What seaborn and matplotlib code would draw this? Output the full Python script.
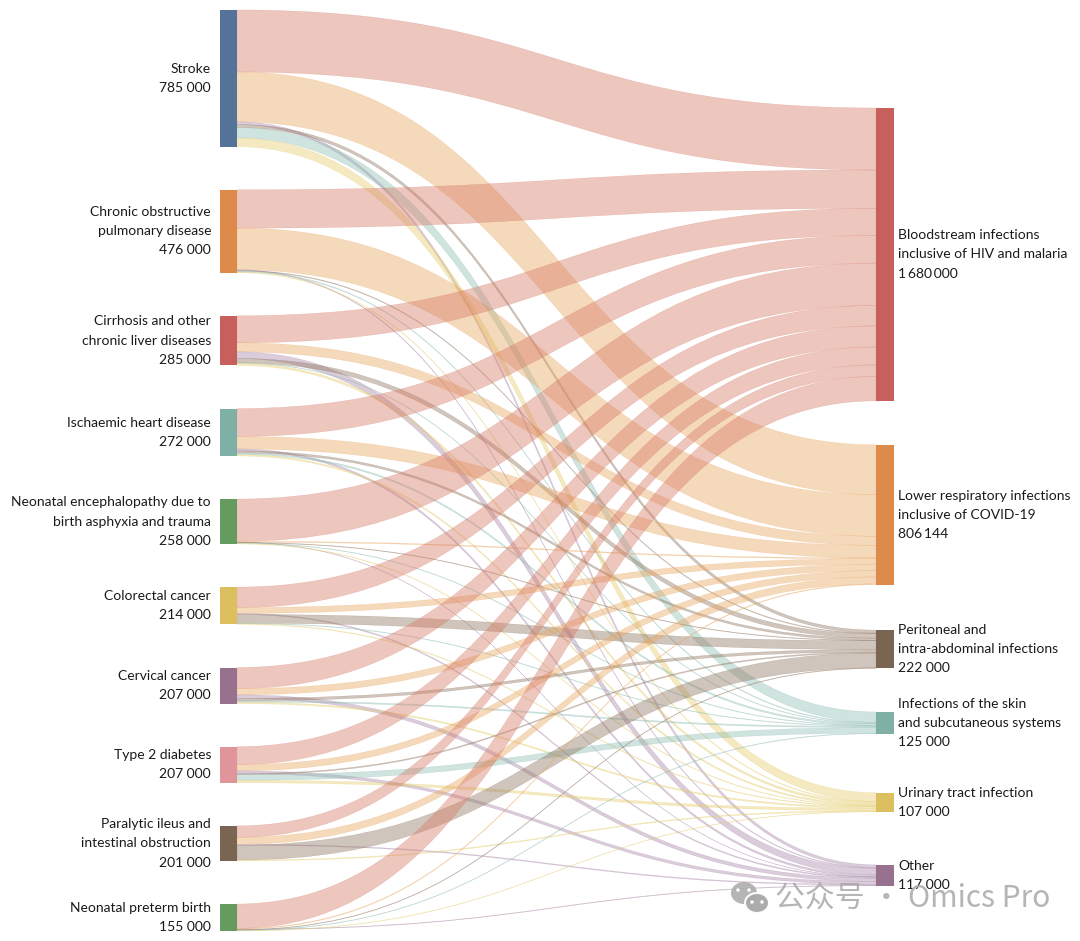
import numpy as np
import matplotlib
matplotlib.use("Agg")
import matplotlib.pyplot as plt
from matplotlib.path import Path
from matplotlib.patches import PathPatch, Rectangle, Ellipse
import seaborn as sns

# ---------------- data ----------------
sources = ["Stroke", "Chronic obstructive\npulmonary disease",
           "Cirrhosis and other\nchronic liver diseases", "Ischaemic heart disease",
           "Neonatal encephalopathy due to\nbirth asphyxia and trauma", "Colorectal cancer",
           "Cervical cancer", "Type 2 diabetes",
           "Paralytic ileus and\nintestinal obstruction", "Neonatal preterm birth"]
source_totals = ["785 000", "476 000", "285 000", "272 000", "258 000",
                 "214 000", "207 000", "207 000", "201 000", "155 000"]
targets = ["Bloodstream infections\ninclusive of HIV and malaria",
           "Lower respiratory infections\ninclusive of COVID-19",
           "Peritoneal and\nintra-abdominal infections",
           "Infections of the skin\nand subcutaneous systems",
           "Urinary tract infection", "Other"]
target_totals = ["1\u2009680\u2009000", "806\u2009144", "222 000", "125 000", "107 000", "117 000"]

# flows (thousands of deaths), one list per target, in source order
blood   = [356, 220, 155, 160, 243, 118, 121, 103, 66, 140]
lri     = [286, 239, 52, 72, 5, 33, 36, 36, 40, 4]
periton = [17, 4, 25, 12, 3, 50, 15, 6, 85, 3]
skin    = [60, 5, 3, 9, 3, 3, 7, 32, 0, 3]
uti     = [50, 4, 12, 8, 3, 4, 8, 14, 5, 2]
other   = [16, 4, 38, 11, 1, 6, 20, 16, 5, 3]

# ---------------- style ----------------
source_colors = ["#557399", "#dd8a4b", "#c75f5c", "#7fb0a6", "#659b5e",
                 "#dcc060", "#98718f", "#e0959b", "#7a6552", "#659b5e"]
target_colors = ["#c75f5c", "#dd8a4b", "#7a6552", "#7fb0a6", "#dcc060", "#98718f"]
link_colors = ["#d67a66", "#e9a55e", "#8f7560", "#8ebdb3", "#e5cc6a", "#a787a8"]

sns.set_theme(style="white")
plt.rcParams['font.family'] = ['Lato', 'DejaVu Sans']

W, H = 1080, 941
fig = plt.figure(figsize=(W / 100, H / 100), dpi=100)
ax = fig.add_axes([0, 0, 1, 1])
ax.set_xlim(0, W)
ax.set_ylim(H, 0)
ax.axis('off')

flows = np.array([blood, lri, periton, skin, uti, other], dtype=float).T  # (src, tgt)
n_s, n_t = flows.shape
src_sum = flows.sum(axis=1)
tgt_sum = flows.sum(axis=0)

scale = 0.1741          # px per thousand
left_x0, left_x1 = 220, 237
right_x0, right_x1 = 876, 894
left_top, left_bottom = 10, 931
left_gap = (left_bottom - left_top - src_sum.sum() * scale) / (n_s - 1)
right_top = 108
right_gaps = [44, 45.5, 43.5, 59, 53]

src_y = []
y = left_top
for i in range(n_s):
    src_y.append(y)
    y += src_sum[i] * scale + left_gap
tgt_y = []
y = right_top
for j in range(n_t):
    tgt_y.append(y)
    y += tgt_sum[j] * scale + (right_gaps[j] if j < n_t - 1 else 0)

# order of outgoing links at each source
out_order = [0, 1, 5, 2, 3, 4]

# incoming offsets at targets (by source order)
tgt_off = np.zeros((n_s, n_t))
for j in range(n_t):
    acc = tgt_y[j]
    for i in range(n_s):
        tgt_off[i, j] = acc
        acc += flows[i, j] * scale

xm = (left_x1 + right_x0) / 2
for i in range(n_s):
    acc = src_y[i]
    for j in out_order:
        v = flows[i, j]
        if v <= 0:
            continue
        h = v * scale
        s0, s1 = acc, acc + h
        t0, t1 = tgt_off[i, j], tgt_off[i, j] + h
        acc += h
        verts = [(left_x1, s0), (xm, s0), (xm, t0), (right_x0, t0),
                 (right_x0, t1), (xm, t1), (xm, s1), (left_x1, s1), (left_x1, s0)]
        codes = [Path.MOVETO, Path.CURVE4, Path.CURVE4, Path.CURVE4,
                 Path.LINETO, Path.CURVE4, Path.CURVE4, Path.CURVE4, Path.CLOSEPOLY]
        ax.add_patch(PathPatch(Path(verts, codes), facecolor=link_colors[j],
                               edgecolor=link_colors[j], linewidth=0.3,
                               alpha=0.42, zorder=2))

fs = 10
ls = 1.72
for i in range(n_s):
    h = src_sum[i] * scale
    ax.add_patch(Rectangle((left_x0, src_y[i]), left_x1 - left_x0, h,
                           facecolor=source_colors[i], edgecolor='none', zorder=3))
    ax.text(211, src_y[i] + h / 2, sources[i] + "\n" + source_totals[i],
            ha='right', va='center', fontsize=fs, color='#1a1a1a',
            linespacing=ls, zorder=4)

for j in range(n_t):
    h = tgt_sum[j] * scale
    ax.add_patch(Rectangle((right_x0, tgt_y[j]), right_x1 - right_x0, h,
                           facecolor=target_colors[j], edgecolor='none', zorder=3))
    ax.text(898, tgt_y[j] + h / 2, targets[j] + "\n" + target_totals[j],
            ha='left', va='center', fontsize=fs, color='#1a1a1a',
            linespacing=ls, zorder=4)

# watermark (WeChat-style icon + text)
wm = '#a8a8a8'
ax.add_patch(Ellipse((744, 893), 26, 22, facecolor=wm, edgecolor='none', alpha=0.85, zorder=5))
ax.add_patch(Ellipse((757, 903), 24, 20, facecolor=wm, edgecolor='white', linewidth=1.5, alpha=0.95, zorder=6))
for (ex, ey) in [(738, 890), (749, 890), (752, 902), (762, 902)]:
    ax.add_patch(Ellipse((ex, ey), 3.5, 3.5, facecolor='white', edgecolor='none', zorder=7))
ax.text(775, 898, "公众号 · Omics Pro", ha='left', va='center', fontsize=21.5,
        color=wm, alpha=0.85, family=['Noto Sans CJK SC', 'DejaVu Sans'], zorder=5)

fig.savefig("out.png", dpi=100)
